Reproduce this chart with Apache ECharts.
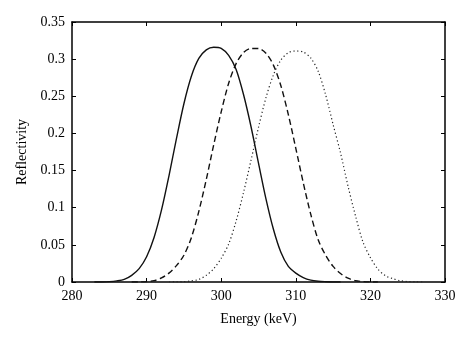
<!DOCTYPE html>
<html>
<head>
<meta charset="utf-8">
<script src="https://cdn.jsdelivr.net/npm/echarts@6/dist/echarts.min.js"></script>
<style>html,body{margin:0;padding:0;background:#fff}#c{width:474px;height:344px}</style>
</head>
<body>
<div id="c"></div>
<script>
// Energy (keV) sample positions for each curve
var solidX  = [283,284,285,286,287,288,289,290,291,292,293,294,295,296,297,298,299,300,301,302,303,304,305,306,307,308,309,310,311,312,313,314,315,316];
var solidY  = [0,0.0001,0.0005,0.0015,0.0035,0.009,0.018,0.034,0.060,0.097,0.143,0.193,0.240,0.277,0.301,0.3125,0.316,0.3145,0.305,0.286,0.252,0.209,0.160,0.112,0.071,0.040,0.021,0.012,0.006,0.0025,0.001,0.0004,0.0001,0];

var dashX = [288,289,290,291,292,293,294,295,296,297,298,299,300,301,302,303,304,305,306,307,308,309,310,311,312,313,314,315,316,317,318,319,320,321];
var dashY = [0,0.0001,0.0005,0.0018,0.0055,0.012,0.022,0.036,0.0597,0.0951,0.138,0.1849,0.2291,0.2675,0.294,0.309,0.3144,0.3143,0.308,0.292,0.2642,0.2253,0.180,0.1336,0.0913,0.0568,0.036,0.021,0.0115,0.0052,0.0017,0.0005,0.0001,0];

var dotX = [293,294,295,296,297,298,299,300,301,302,303,304,305,306,307,308,309,310,311,312,313,314,315,316,317,318,319,320,321,322,323,324,325,326,327];
var dotY = [0,0.0001,0.0004,0.0015,0.0035,0.009,0.018,0.032,0.0511,0.082,0.1208,0.164,0.2081,0.2481,0.2787,0.2988,0.3087,0.311,0.3096,0.3016,0.2836,0.252,0.212,0.1736,0.129,0.0891,0.054,0.0328,0.0175,0.0085,0.0045,0.0018,0.0006,0.0001,0];

var xTicks = [280,290,300,310,320,330];
var yTicks = [0,0.05,0.1,0.15,0.2,0.25,0.3,0.35];

function pairs(xs, ys){ return xs.map(function(x,i){ return [x, ys[i]]; }); }

var FONT = '"Liberation Serif", "DejaVu Serif", serif';
var chart = echarts.init(document.getElementById('c'), null, {renderer:'canvas'});
var axisLineStyle = {show:true, onZero:false, lineStyle:{color:'#000', width:1.5}};
var tickStyle = {show:true, inside:true, length:4, lineStyle:{color:'#000', width:1}};

chart.setOption({
  animation:false,
  backgroundColor:'#fff',
  grid:{left:72, right:29, top:22, bottom:62, containLabel:false},
  xAxis:[{
    type:'value', min:xTicks[0], max:xTicks[xTicks.length-1], interval:10,
    name:'Energy (keV)', nameLocation:'middle', nameGap:30,
    nameTextStyle:{fontFamily:FONT, fontSize:14, color:'#000'},
    axisLine:axisLineStyle, axisTick:tickStyle, splitLine:{show:false},
    axisLabel:{fontFamily:FONT, fontSize:14, color:'#000', margin:7}
  },{
    type:'value', position:'top', min:xTicks[0], max:xTicks[xTicks.length-1], interval:10,
    axisLine:axisLineStyle, axisTick:tickStyle, splitLine:{show:false}, axisLabel:{show:false}
  }],
  yAxis:[{
    type:'value', min:yTicks[0], max:yTicks[yTicks.length-1], interval:0.05,
    name:'Reflectivity', nameLocation:'middle', nameGap:40,
    nameTextStyle:{fontFamily:FONT, fontSize:14, color:'#000'},
    axisLine:axisLineStyle, axisTick:tickStyle, splitLine:{show:false},
    axisLabel:{fontFamily:FONT, fontSize:14, color:'#000', margin:7,
      formatter:function(v){ return String(parseFloat(v.toFixed(2))); }}
  },{
    type:'value', position:'right', min:yTicks[0], max:yTicks[yTicks.length-1], interval:0.05,
    axisLine:axisLineStyle, axisTick:tickStyle, splitLine:{show:false}, axisLabel:{show:false}
  }],
  series:[
    {type:'line', data:pairs(solidX, solidY), smooth:0.3, showSymbol:false, clip:true,
     lineStyle:{color:'#111', width:1.4, type:'solid'}},
    {type:'line', data:pairs(dashX, dashY), smooth:0.3, showSymbol:false, clip:true,
     lineStyle:{color:'#111', width:1.4, type:[6,3.5]}},
    {type:'line', data:pairs(dotX, dotY), smooth:0.3, showSymbol:false, clip:true,
     lineStyle:{color:'#222', width:1.2, type:[1.2,2.6]}}
  ]
});
</script>
</body>
</html>
